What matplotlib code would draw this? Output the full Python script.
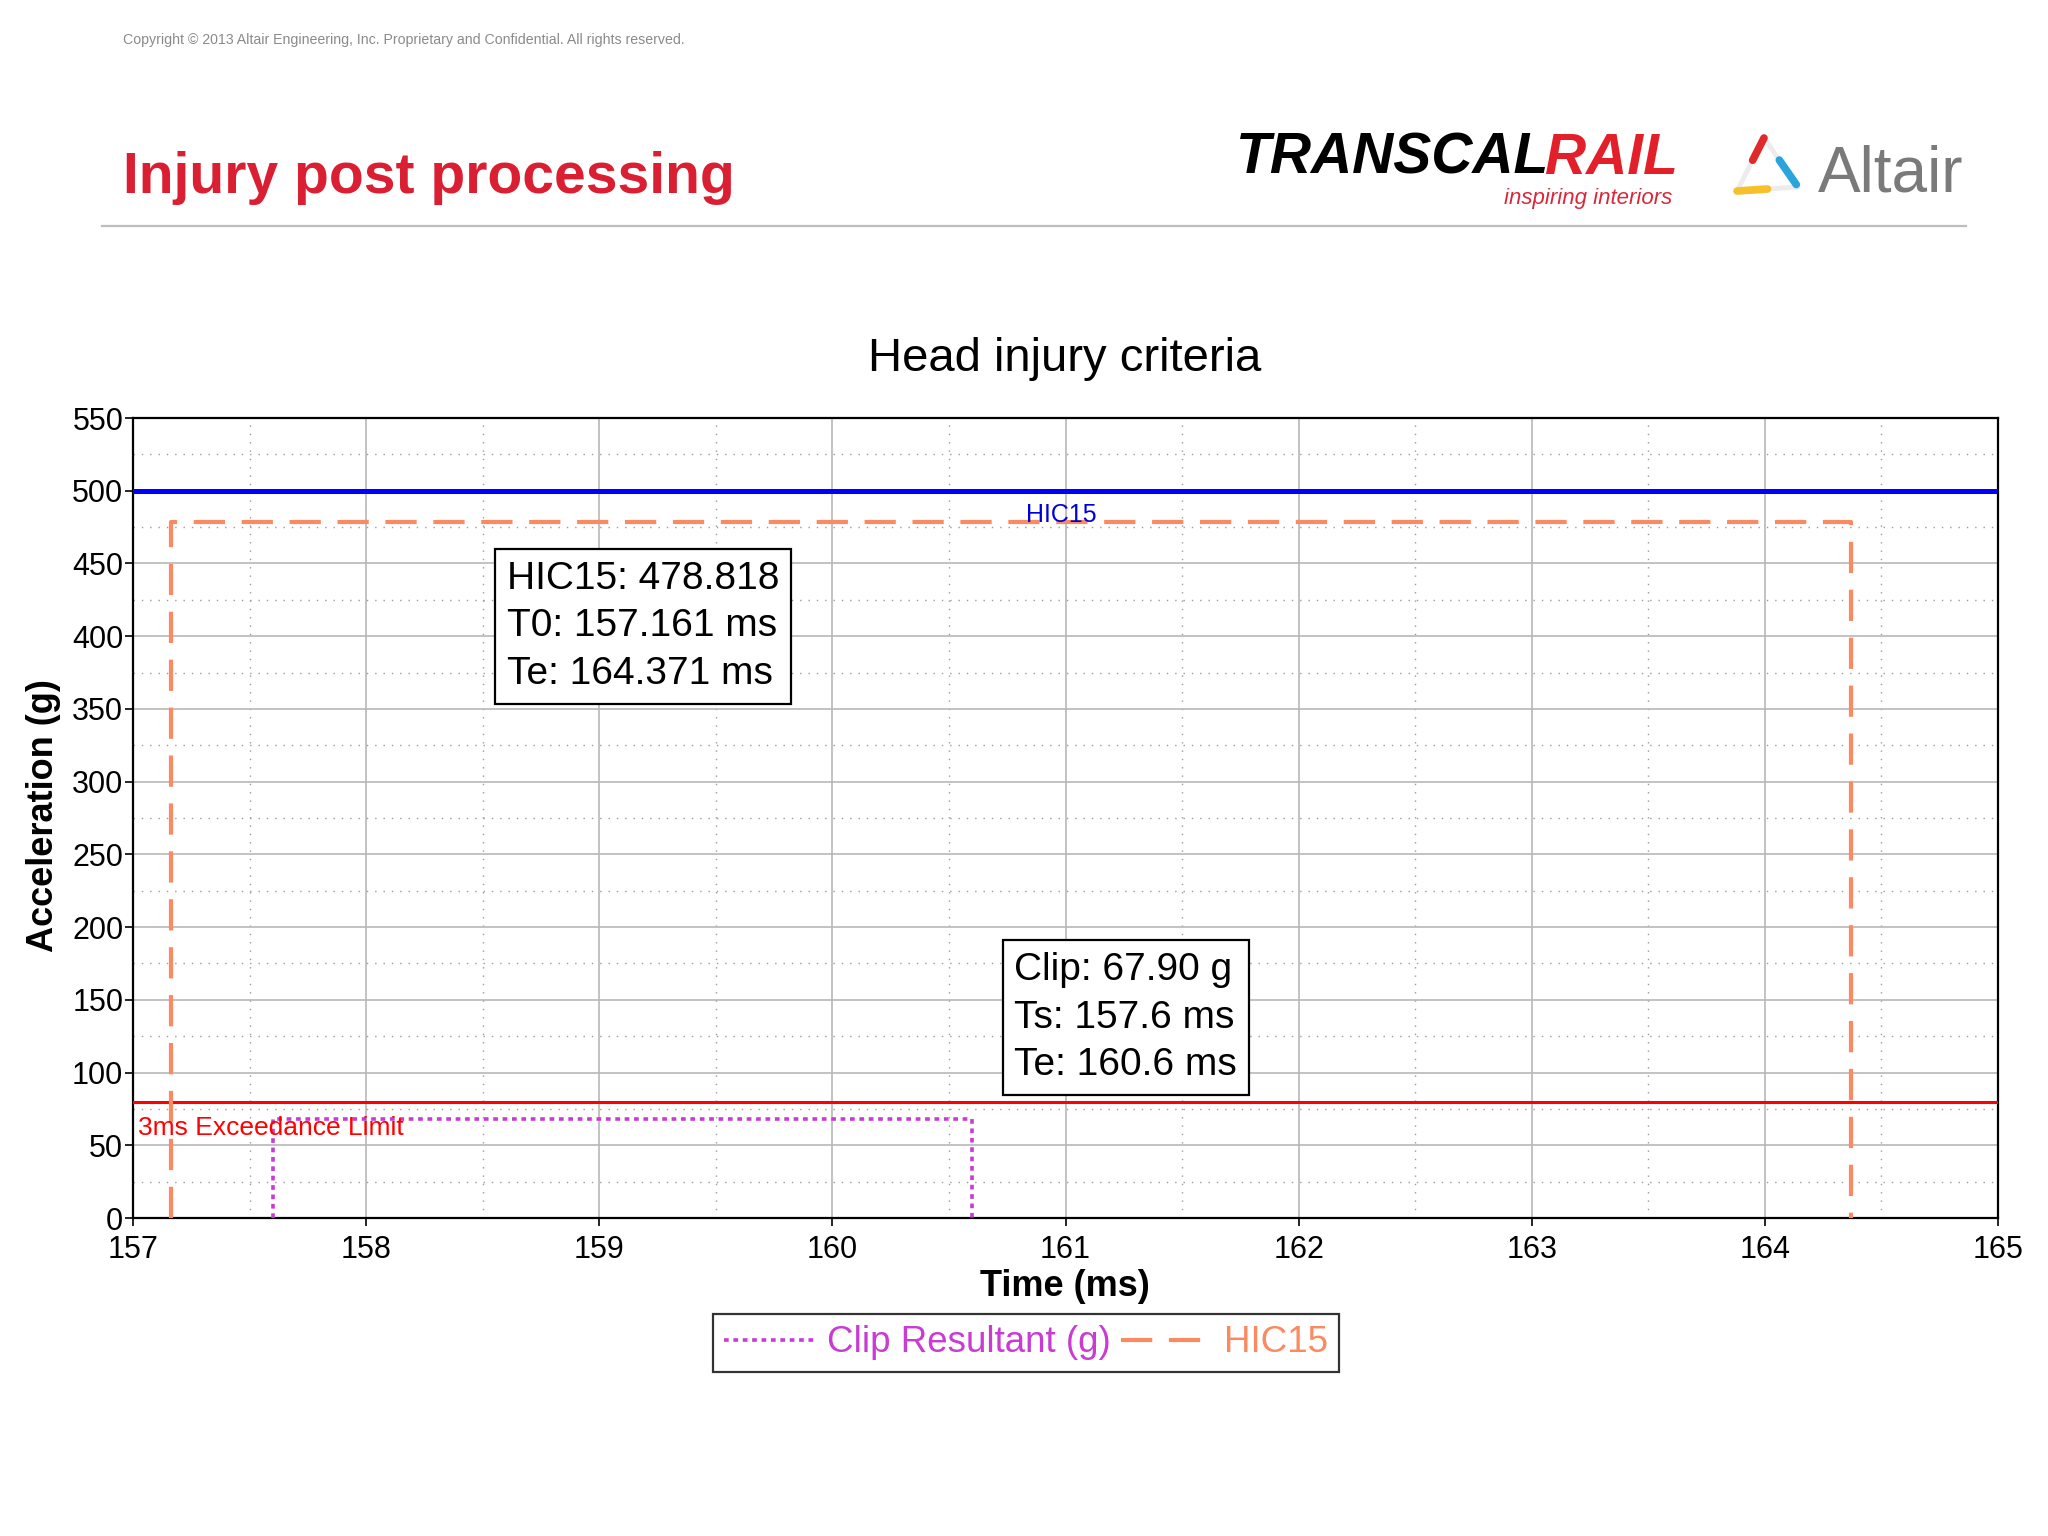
import matplotlib
matplotlib.use("Agg")
import matplotlib.pyplot as plt
from matplotlib.lines import Line2D
from matplotlib.ticker import MultipleLocator

# ---------------- data ----------------
x_ticks = [157, 158, 159, 160, 161, 162, 163, 164, 165]
y_ticks = [0, 50, 100, 150, 200, 250, 300, 350, 400, 450, 500, 550]

hic_time = [157.161, 157.161, 164.371, 164.371]
hic_value = [0, 478.818, 478.818, 0]

clip_time = [157.6, 157.6, 160.6, 160.6]
clip_value = [0, 67.90, 67.90, 0]

hic_limit = 500
exceedance_limit = 80

hic_box_lines = ["HIC15: 478.818", "T0: 157.161 ms", "Te: 164.371 ms"]
clip_box_lines = ["Clip: 67.90 g", "Ts: 157.6 ms", "Te: 160.6 ms"]

# ---------------- figure ----------------
W, H = 2048, 1536
plt.rcParams["font.family"] = ["Liberation Sans", "DejaVu Sans"]
fig = plt.figure(figsize=(W / 100, H / 100), dpi=100)
fig.patch.set_facecolor("white")


def fx(px):
    return px / W


def fy(py):
    return 1 - py / H


# header
fig.text(fx(123), fy(40), "Copyright \u00a9 2013 Altair Engineering, Inc. Proprietary and Confidential. All rights reserved.",
         fontsize=10.2, color="#8a8a8a", va="center", ha="left")
fig.text(fx(123), fy(193), "Injury post processing", fontsize=41, weight="bold",
         color="#DA1F33", va="baseline", ha="left")
fig.add_artist(Line2D([fx(102), fx(1966)], [fy(226), fy(226)], transform=fig.transFigure,
                      color="#bdbdbd", lw=1.6))

# TRANSCALRAIL logo
t1 = fig.text(fx(1236), fy(174), "TRANSCAL", fontsize=41, weight="bold", style="italic",
              color="black", va="baseline", ha="left")
fig.canvas.draw()
bb = t1.get_window_extent()
fig.text((bb.x1 - 4) / W, fy(174), "RAIL", fontsize=41, weight="bold", style="italic",
         color="#E3202A", va="baseline", ha="left")
fig.text(fx(1672), fy(204), "inspiring interiors", fontsize=16, style="italic",
         color="#D9283A", va="baseline", ha="right")

# Altair logo
top = (1764, 138)
bl = (1737, 191)
br = (1798, 187)


def seg(p, q, c, lw=5.5):
    fig.add_artist(Line2D([fx(p[0]), fx(q[0])], [fy(p[1]), fy(q[1])], transform=fig.transFigure,
                          color=c, lw=lw, solid_capstyle="round"))


def lerp(p, q, t):
    return (p[0] + (q[0] - p[0]) * t, p[1] + (q[1] - p[1]) * t)


seg(top, bl, "#ececec", 3.5)
seg(bl, br, "#ececec", 3.5)
seg(br, top, "#ececec", 3.5)
seg(top, lerp(top, bl, 0.42), "#E02A2A")
seg(lerp(br, top, 0.05), lerp(br, top, 0.55), "#2BA3DC")
seg(bl, lerp(bl, br, 0.5), "#F5C02A")
fig.text(fx(1818), fy(192), "Altair", fontsize=46, color="#7a7a7a", va="baseline", ha="left")

# ---------------- axes ----------------
ax = fig.add_axes([fx(133), fy(1218), fx(1998) - fx(133), fy(418) - fy(1218)])
ax.set_xlim(x_ticks[0], x_ticks[-1])
ax.set_ylim(y_ticks[0], y_ticks[-1])
ax.set_xticks(x_ticks)
ax.set_yticks(y_ticks)
ax.xaxis.set_minor_locator(MultipleLocator(0.5))
ax.yaxis.set_minor_locator(MultipleLocator(25))
ax.grid(which="major", color="#b8b8b8", lw=1.2, ls="-", zorder=0)
ax.grid(which="minor", color="#9a9a9a", lw=1.0, ls=(0, (1, 5)), zorder=0)
ax.set_axisbelow(True)
ax.tick_params(which="minor", length=0)
ax.tick_params(axis="y", which="major", direction="out", length=6, width=1.2, pad=1,
               labelsize=22, colors="black")
ax.tick_params(axis="x", which="major", direction="out", length=6, width=1.2, pad=6,
               labelsize=22, colors="black")
for s in ax.spines.values():
    s.set_color("black")
    s.set_linewidth(1.6)

ax.axhline(hic_limit, color="#0000FF", lw=3.6, zorder=3)
ax.axhline(exceedance_limit, color="#FF0000", lw=2.2, zorder=3)

l_clip, = ax.plot(clip_time, clip_value, color="#C83CD2", lw=2.6, ls=(0, (1.3, 1.3)),
                  label="Clip Resultant (g)", zorder=4)
l_hic, = ax.plot(hic_time, hic_value, color="#F98A62", lw=3.0, ls=(0, (7.5, 4)),
                 label="HIC15", zorder=4)

ax.text(160.83, 483, "HIC15", color="#0000DD", fontsize=18, ha="left", va="center", zorder=5)
ax.text(157.02, 62, "3ms Exceedance Limit", color="#FF0000", fontsize=19, ha="left",
        va="center", zorder=5)

box = dict(boxstyle="square,pad=0.3", facecolor="white", edgecolor="black", lw=1.6)
ax.text(158.605, 452, "\n".join(hic_box_lines), fontsize=28, ha="left", va="top",
        linespacing=1.42, bbox=box, zorder=6)
ax.text(160.78, 183, "\n".join(clip_box_lines), fontsize=28, ha="left", va="top",
        linespacing=1.42, bbox=box, zorder=6)

fig.text(fx(1065), fy(359), "Head injury criteria", fontsize=34, ha="center", va="center")
fig.text(fx(1065), fy(1287), "Time (ms)", fontsize=26, weight="bold", ha="center", va="center")
fig.text(fx(44), fy(816), "Acceleration (g)", fontsize=26, weight="bold", ha="center",
         va="center", rotation=90)

leg = fig.legend(handles=[l_clip, l_hic], loc="center", bbox_to_anchor=(fx(1026), fy(1343)),
                 ncol=2, fontsize=26.5, frameon=True, fancybox=False, edgecolor="black",
                 labelcolor="linecolor", handlelength=2.5, handletextpad=0.3,
                 columnspacing=0.3, borderpad=0.3, borderaxespad=0)
leg.get_frame().set_linewidth(1.6)

fig.savefig("out.png", dpi=100, facecolor="white")
